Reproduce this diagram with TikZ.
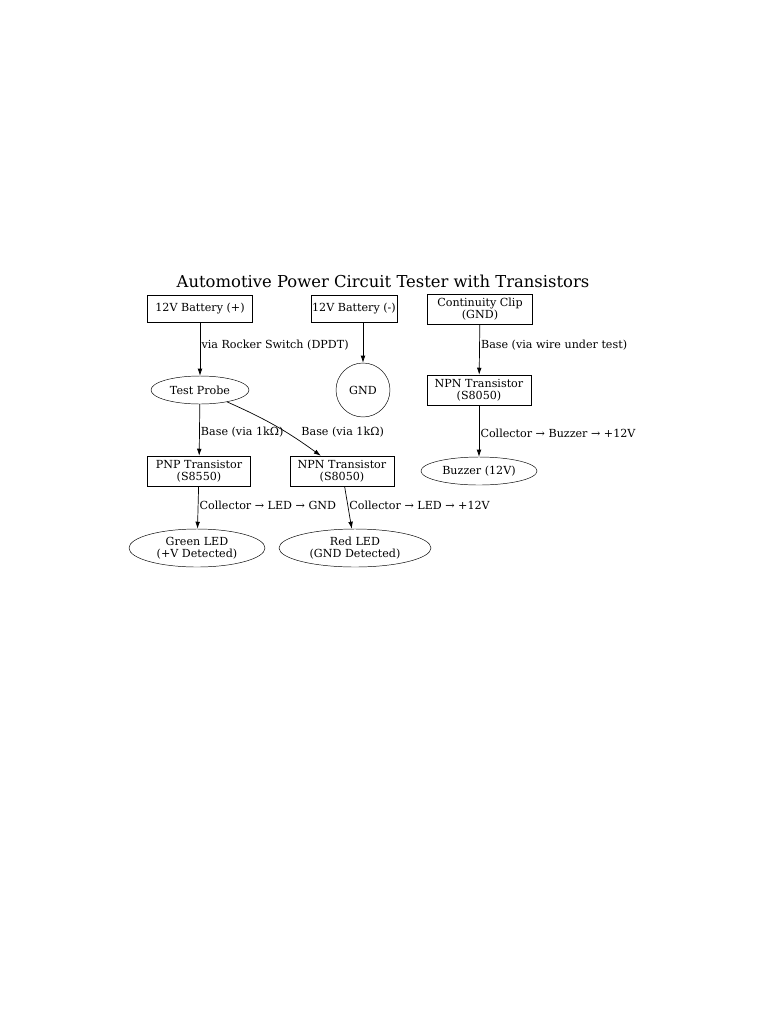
\documentclass[tikz,border=0pt]{standalone}
\usepackage{fontspec}
\setmainfont{DejaVu Serif}
\usetikzlibrary{arrows.meta,shapes.geometric}
\newdimen\px
\px=0.03cm
\tikzset{
  box/.style={draw, rectangle, align=center, inner sep=2pt, font=\fontsize{9.5}{10}\selectfont, minimum height=27\px},
  oval/.style={draw, ellipse, align=center, inner sep=0pt, font=\fontsize{9.5}{10}\selectfont},
  lbl/.style={font=\fontsize{9.5}{10}\selectfont, right, inner sep=1pt},
  wire/.style={-{Latex[length=6pt,width=4pt]}, semithick}
}
\begin{document}
\begin{tikzpicture}[x=0.03cm, y=-0.03cm]
  \useasboundingbox (0,0) rectangle (768,1024);
  %% title
  \node[font=\fontsize{14}{14}\selectfont] (title) at (383,281) {Automotive Power Circuit Tester with Transistors};
  %% top row
  \node[box, minimum width=105\px] (batp) at (200,309) {12V Battery (+)};
  \node[box, minimum width=81\px, inner sep=1pt] (batn) at (354,309) {12V Battery (-)};
  \node[box, minimum width=105\px, minimum height=30\px] (clip) at (480,309) {Continuity Clip\\(GND)};
  %% middle row
  \node[oval, minimum width=98\px, minimum height=28\px] (probe) at (200,390) {Test Probe};
  \node[draw, circle, minimum size=54\px, inner sep=0pt, font=\fontsize{9.5}{10}\selectfont] (gnd) at (363,390) {GND};
  \node[box, minimum width=104\px, minimum height=30\px] (npnb) at (479,390) {NPN Transistor\\(S8050)};
  %% transistors
  \node[box, minimum width=103\px, minimum height=30\px] (pnp) at (199,471) {PNP Transistor\\(S8550)};
  \node[box, minimum width=104\px, minimum height=30\px] (npna) at (342,471) {NPN Transistor\\(S8050)};
  \node[oval, minimum width=116\px, minimum height=28\px] (buzz) at (479,471) {Buzzer (12V)};
  %% LEDs
  \node[oval, minimum width=136\px, minimum height=38\px] (gled) at (197,548) {Green LED\\(+V Detected)};
  \node[oval, minimum width=152\px, minimum height=38\px] (rled) at (355,548) {Red LED\\(GND Detected)};
  %% connectors
  \draw[wire] (batp) -- node[lbl, pos=0.42] {via Rocker Switch (DPDT)} (probe);
  \draw[wire] (batn.south -| gnd) -- (gnd);
  \draw[wire] (clip) -- node[lbl, pos=0.42] {Base (via wire under test)} (npnb);
  \draw[wire] (npnb) -- node[lbl, pos=0.55] {Collector → Buzzer → +12V} (buzz);
  \draw[wire] (probe) -- node[lbl, pos=0.55] {Base (via 1kΩ)} (pnp);
  \draw[wire] (probe) to[bend left=6] node[lbl, pos=0.62, xshift=12pt] {Base (via 1kΩ)} (npna);
  \draw[wire] (pnp) -- node[lbl, pos=0.45] {Collector → LED → GND} (gled);
  \draw[wire] (npna) -- node[lbl, pos=0.45] {Collector → LED → +12V} (rled);
\end{tikzpicture}
\end{document}
